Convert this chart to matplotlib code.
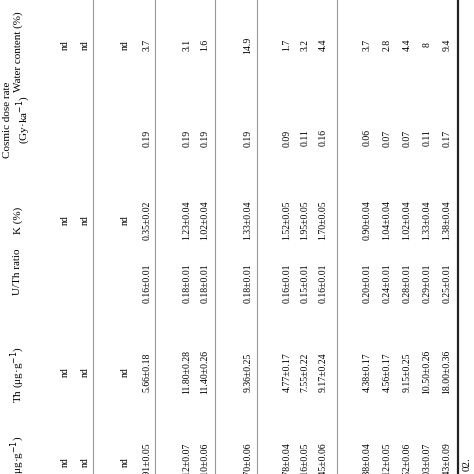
import matplotlib
matplotlib.use('Agg')
import matplotlib.pyplot as plt

# table rows (left to right in the rotated picture)
u_vals = ['nd', 'nd', 'nd', '0.91±0.05', '2.12±0.07', '2.10±0.06', '1.70±0.06',
          '0.78±0.04', '1.16±0.05', '1.45±0.06', '0.88±0.04', '1.12±0.05',
          '2.52±0.06', '3.03±0.07', '4.43±0.09']
th_vals = ['nd', 'nd', 'nd', '5.66±0.18', '11.80±0.28', '11.40±0.26', '9.36±0.25',
           '4.77±0.17', '7.55±0.22', '9.17±0.24', '4.38±0.17', '4.56±0.17',
           '9.15±0.25', '10.50±0.26', '18.00±0.36']
uth_vals = ['', '', '', '0.16±0.01', '0.18±0.01', '0.18±0.01', '0.18±0.01',
            '0.16±0.01', '0.15±0.01', '0.16±0.01', '0.20±0.01', '0.24±0.01',
            '0.28±0.01', '0.29±0.01', '0.25±0.01']
k_vals = ['nd', 'nd', 'nd', '0.35±0.02', '1.23±0.04', '1.02±0.04', '1.33±0.04',
          '1.52±0.05', '1.95±0.05', '1.70±0.05', '0.90±0.04', '1.04±0.04',
          '1.02±0.04', '1.33±0.04', '1.38±0.04']
cosmic_vals = ['', '', '', '0.19', '0.19', '0.19', '0.19', '0.09', '0.11', '0.16',
               '0.06', '0.07', '0.07', '0.11', '0.17']
water_vals = ['nd', 'nd', 'nd', '3.7', '3.1', '1.6', '14.9', '1.7', '3.2', '4.4',
              '3.7', '2.8', '4.4', '8', '9.4']
headers = ['U (μg·g$^{-1}$)', 'Th (μg·g$^{-1}$)', 'U/Th ratio', 'K (%)',
           'Cosmic dose rate\n(Gy·ka$^{-1}$)', 'Water content (%)']

W = 474.0
row_x = [65, 85, 125, 147, 187, 205, 248, 287, 305, 323, 367, 387, 407, 427, 447]
col_y = [462, 372, 283, 220, 138, 45]
head_y = [462, 375, 272, 220, 120, 52]
sep_x = [93, 155, 215, 257, 337]

fig = plt.figure(figsize=(4.74, 4.74), dpi=100)
font = dict(family='Liberation Serif', rotation=90, ha='center', va='center')

def fx(px):
    return px / W

def fy(py):
    return 1 - py / W

for hy, h in zip(head_y, headers):
    fig.text(fx(18), fy(hy), h, fontsize=8, linespacing=1.2, **font)

cols = [u_vals, th_vals, uth_vals, k_vals, cosmic_vals, water_vals]
for cy, vals in zip(col_y, cols):
    for rx, v in zip(row_x, vals):
        if v:
            fig.text(fx(rx), fy(cy), v, fontsize=7, **font)

for sx in sep_x:
    fig.add_artist(plt.Line2D([fx(sx), fx(sx)], [0, 1], color='#999999', lw=0.8))
fig.add_artist(plt.Line2D([fx(458), fx(458)], [0, 1], color='#222222', lw=1.6))
fig.text(fx(467), fy(464), '02.', fontsize=8, **font)

fig.savefig('out.png', dpi=100)
